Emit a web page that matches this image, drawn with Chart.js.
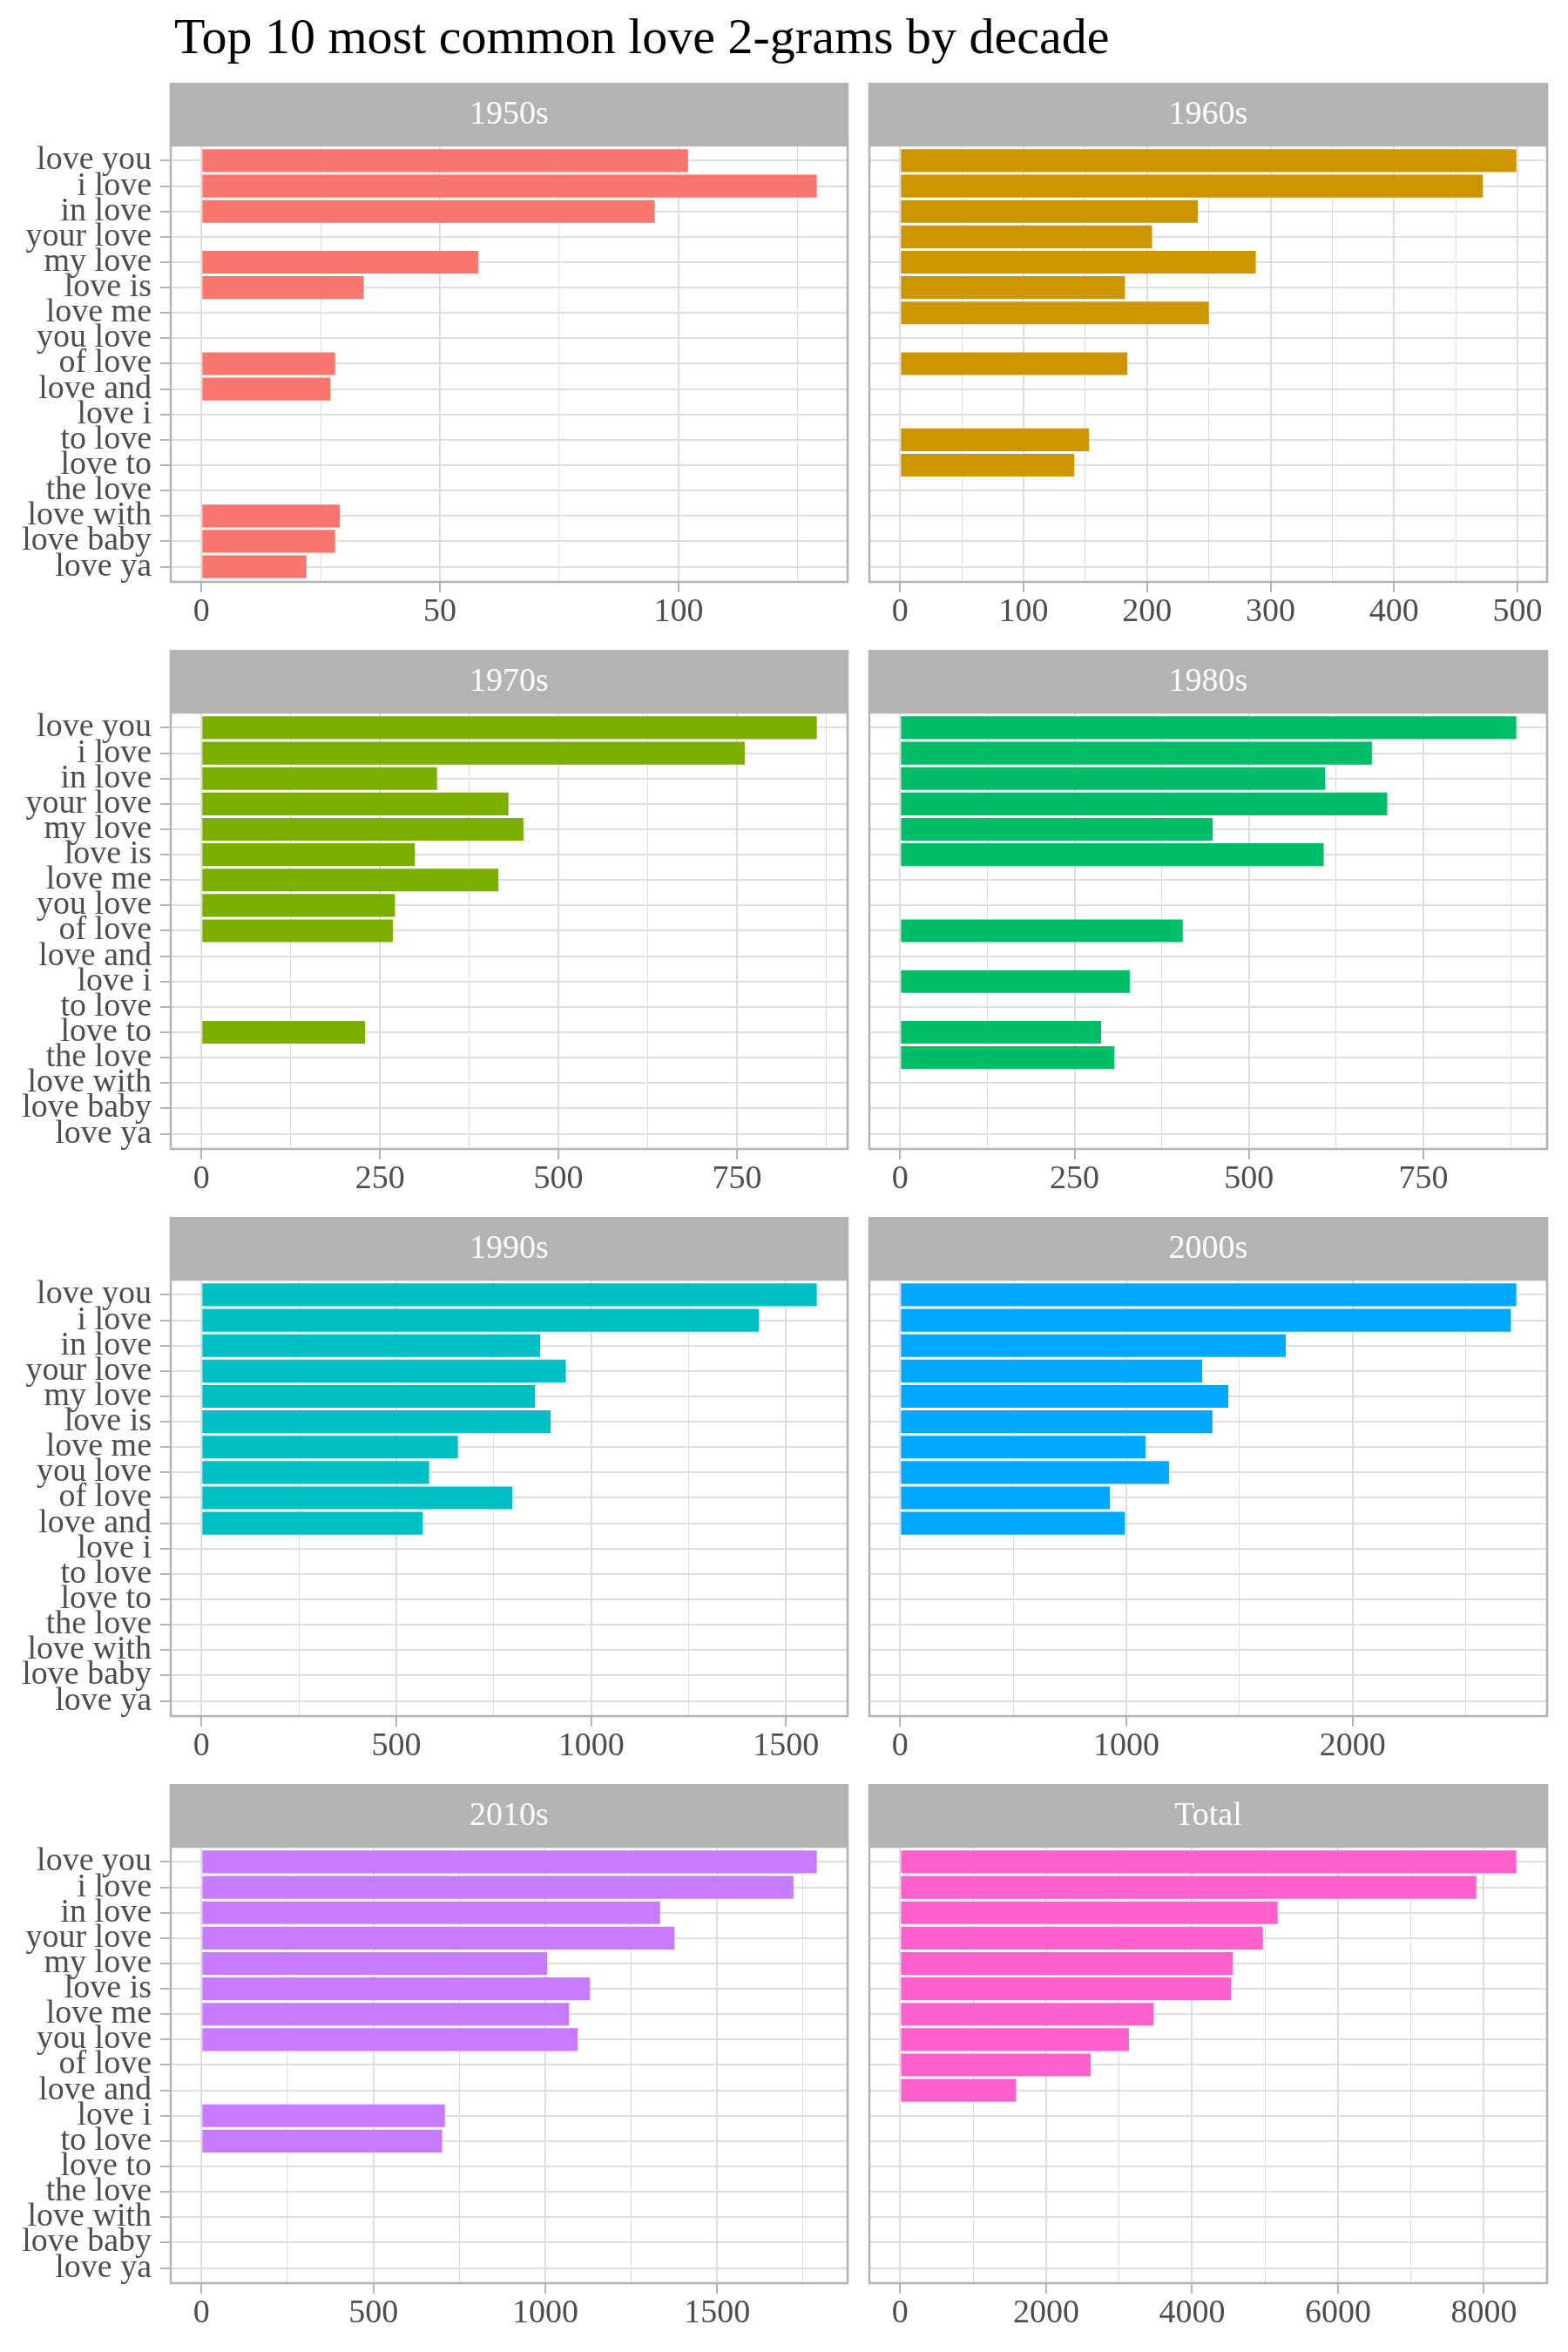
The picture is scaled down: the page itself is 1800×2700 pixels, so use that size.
<!DOCTYPE html>
<html>
<head>
<meta charset="utf-8">
<script src="https://cdn.jsdelivr.net/npm/chart.js@4.4.1/dist/chart.umd.min.js"></script>
<style>
html,body{margin:0;padding:0;background:#fff;}
body{width:1800px;height:2700px;position:relative;overflow:hidden;}
#title{position:absolute;left:200px;top:13px;font-family:'Liberation Serif',serif;font-size:58px;line-height:1;color:#000;white-space:nowrap;}
.panel{position:absolute;}
</style>
</head>
<body>
<div id="title">Top 10 most common love 2-grams by decade</div>
<script>
// ---- data ----
const categories = ['love you','i love','in love','your love','my love','love is','love me','you love',
  'of love','love and','love i','to love','love to','the love','love with','love baby','love ya'];
const panelNames = ['1950s','1960s','1970s','1980s','1990s','2000s','2010s','Total'];
const v1950s = [102,129,95,null,58,34,null,null,28,27,null,null,null,null,29,28,22];
const v1960s = [499,472,241,204,288,182,250,null,184,null,null,153,141,null,null,null,null];
const v1970s = [862,761,330,430,451,299,416,271,268,null,null,null,229,null,null,null,null];
const v1980s = [883,676,609,698,448,607,null,null,405,null,329,null,288,307,null,null,null];
const v1990s = [1579,1430,869,935,856,896,658,584,798,568,null,null,null,null,null,null,null];
const v2000s = [2723,2699,1704,1335,1450,1380,1084,1188,927,993,null,null,null,null,null,null,null];
const v2010s = [1790,1722,1334,1376,1006,1130,1069,1094,null,null,708,700,null,null,null,null,null];
const vTotal = [8444,7896,5173,4970,4557,4533,3474,3135,2611,1589,null,null,null,null,null,null,null];
const majorSteps = [50,100,250,250,500,1000,500,2000];
const colors = ['#F8766D','#CD9600','#7CAE00','#00BE67','#00BFC4','#00A9FF','#C77CFF','#FF61CC'];
const seriesList = [v1950s,v1960s,v1970s,v1980s,v1990s,v2000s,v2010s,vTotal];

// ---- layout ----
const FONT = "'Liberation Serif', serif";
const STRIP_H = 72, PANEL_H = 501, XAXIS_H = 60;
const ROW_TOP0 = 95, ROW_STEP = 651;
const cols = [
  {left:0, width:990, yw:196, padR:17},
  {left:990, width:810, yw:8, padR:24}
];

const facetPlugin = {
  id: 'facet',
  beforeDraw(chart, args, opts) {
    const ctx = chart.ctx, a = chart.chartArea;
    ctx.save();
    ctx.fillStyle = '#b3b3b3';
    ctx.fillRect(a.left - 1.25, 0, a.right - a.left + 2.5, a.top);
    ctx.fillStyle = '#ffffff';
    ctx.font = '38px ' + FONT;
    ctx.textAlign = 'center';
    ctx.textBaseline = 'middle';
    ctx.fillText(opts.label, (a.left + a.right) / 2, a.top / 2 + 1);
    ctx.restore();
  },
  afterDraw(chart) {
    const ctx = chart.ctx, a = chart.chartArea;
    ctx.save();
    ctx.strokeStyle = '#b3b3b3';
    ctx.lineWidth = 2.5;
    ctx.strokeRect(a.left, a.top, a.right - a.left, a.bottom - a.top);
    ctx.restore();
  }
};

panelNames.forEach((name, i) => {
  const col = i % 2, row = Math.floor(i / 2);
  const c = cols[col];
  const vals = seriesList[i];
  const major = majorSteps[i];
  const minor = major / 2;
  const mx = Math.max(...vals.filter(v => v !== null));
  const isMajor = v => Math.abs(v / major - Math.round(v / major)) < 1e-9;

  const div = document.createElement('div');
  div.className = 'panel';
  div.style.left = c.left + 'px';
  div.style.top = (ROW_TOP0 + row * ROW_STEP) + 'px';
  div.style.width = c.width + 'px';
  div.style.height = (STRIP_H + PANEL_H + XAXIS_H) + 'px';
  const canvas = document.createElement('canvas');
  div.appendChild(canvas);
  document.body.appendChild(div);

  new Chart(canvas, {
    type: 'bar',
    data: {
      datasets: [{
        data: vals.map((v, k) => ({x: v, y: k})),
        backgroundColor: colors[i],
        borderWidth: 0,
        barPercentage: 0.9,
        categoryPercentage: 1.0
      }]
    },
    plugins: [facetPlugin],
    options: {
      indexAxis: 'y',
      responsive: true,
      maintainAspectRatio: false,
      animation: false,
      layout: {padding: {top: STRIP_H, right: c.padR, left: 0, bottom: 0}},
      plugins: {
        legend: {display: false},
        tooltip: {enabled: false},
        facet: {label: name}
      },
      scales: {
        x: {
          type: 'linear',
          offset: false,
          min: -0.05 * mx,
          max: 1.05 * mx,
          border: {display: false},
          grid: {
            offset: false,
            color: '#dedede',
            lineWidth: ctx => (ctx.tick && isMajor(ctx.tick.value)) ? 2 : 1,
            tickColor: ctx => (ctx.tick && isMajor(ctx.tick.value)) ? '#b3b3b3' : 'rgba(0,0,0,0)',
            tickWidth: 2,
            tickLength: 12
          },
          ticks: {
            autoSkip: false,
            maxRotation: 0,
            minRotation: 0,
            padding: 0,
            color: '#4d4d4d',
            font: {family: FONT, size: 38},
            callback: v => isMajor(v) ? String(Math.round(v)) : ''
          },
          afterBuildTicks: ax => {
            const t = [];
            for (let v = 0; v <= ax.max + 1e-9; v += minor) t.push({value: v});
            ax.ticks = t;
          },
          afterFit: ax => { ax.height = XAXIS_H; }
        },
        y: {
          type: 'linear',
          offset: false,
          reverse: true,
          min: -0.6,
          max: categories.length - 0.4,
          border: {display: false},
          grid: {
            offset: false,
            color: '#dedede',
            lineWidth: 2,
            drawTicks: col === 0,
            tickColor: '#b3b3b3',
            tickWidth: 2,
            tickLength: col === 0 ? 12 : 0
          },
          ticks: {
            display: col === 0,
            autoSkip: false,
            padding: 10,
            color: '#4d4d4d',
            font: {family: FONT, size: 38},
            callback: v => categories[v] !== undefined ? categories[v] : ''
          },
          afterBuildTicks: ax => { ax.ticks = categories.map((cat, k) => ({value: k})); },
          afterFit: ax => { ax.width = c.yw; }
        }
      }
    }
  });
});
</script>
</body>
</html>
